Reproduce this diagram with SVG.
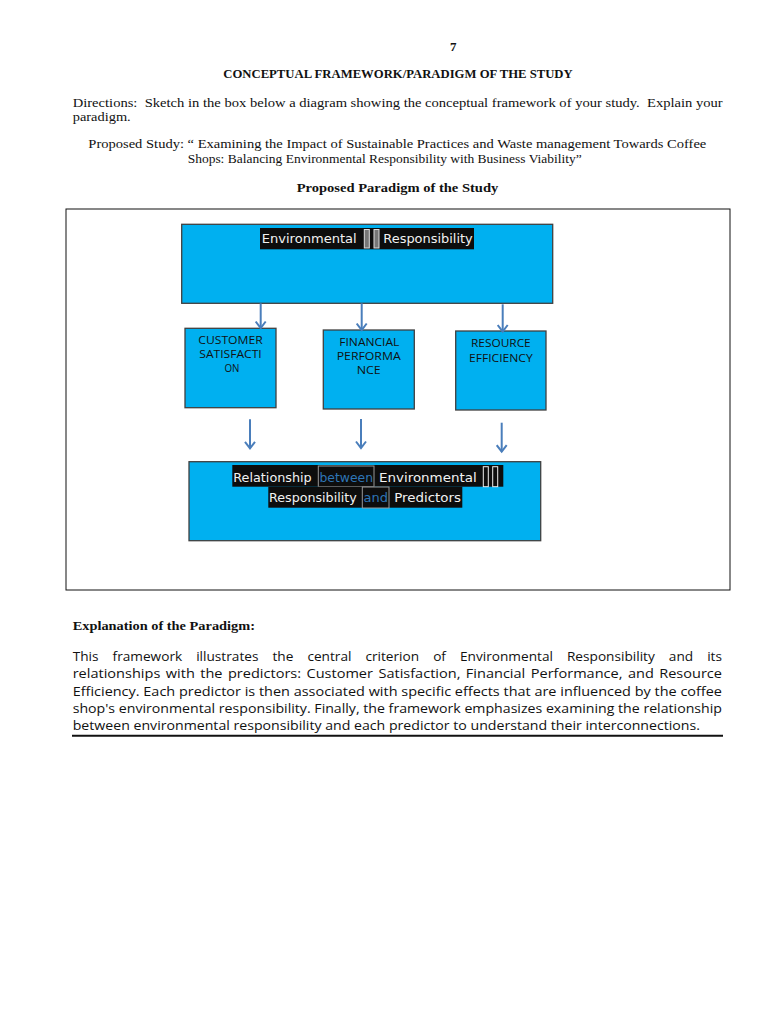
<svg xmlns="http://www.w3.org/2000/svg" width="768" height="1024" viewBox="0 0 768 1024">
<style>
.serif{font-family:"Liberation Serif","DejaVu Serif",serif;font-size:13.5px;fill:#111}
.b{font-weight:bold;font-size:13px}
.para{font-family:"Open Sans","Liberation Sans",sans-serif;font-size:13px;fill:#111}
.box{fill:#00B0F0;stroke:#404040;stroke-width:1.3}
.lbl{font-family:"Open Sans","Liberation Sans",sans-serif;font-size:11.5px;fill:#111}
.hand{font-family:"DejaVu Sans","Liberation Sans",sans-serif;font-size:12px;fill:#f2f2f2}
.blue{fill:#2E75B6}
.bg{fill:#0d0d0d}
.conn{stroke:#4A7EBB;stroke-width:2;fill:none;marker-end:url(#arr)}
</style>
<defs>
<marker id="arr" markerUnits="userSpaceOnUse" viewBox="-8 -6 10 12" refX="0" refY="0" markerWidth="10" markerHeight="12" orient="auto">
<path d="M-6.5,-5 L0,0 L-6.5,5" fill="none" stroke="#4A7EBB" stroke-width="2"/>
</marker>
</defs>
<rect width="768" height="1024" fill="#fff"/>

<g id="header">
<text class="serif b" x="450" y="51">7</text>
<text class="serif b" x="223.3" y="78.3" textLength="349.4" lengthAdjust="spacingAndGlyphs">CONCEPTUAL FRAMEWORK/PARADIGM OF THE STUDY</text>
<text class="serif" x="72.7" y="106.7" textLength="650" lengthAdjust="spacingAndGlyphs" xml:space="preserve">Directions:  Sketch in the box below a diagram showing the conceptual framework of your study.  Explain your</text>
<text class="serif" x="72.7" y="120.5" textLength="58" lengthAdjust="spacingAndGlyphs">paradigm.</text>
<text class="serif" x="88.3" y="148.3" textLength="618" lengthAdjust="spacingAndGlyphs">Proposed Study: “ Examining the Impact of Sustainable Practices and Waste management Towards Coffee</text>
<text class="serif" x="187.7" y="162.7" textLength="394" lengthAdjust="spacingAndGlyphs">Shops: Balancing Environmental Responsibility with Business Viability”</text>
<text class="serif b" x="296.7" y="191.7" textLength="201.6" lengthAdjust="spacingAndGlyphs">Proposed Paradigm of the Study</text>
</g>

<rect id="frame" x="66" y="209" width="664" height="381" fill="none" stroke="#111" stroke-width="1"/>

<g id="environmental-responsibility">
<rect class="box" x="181.7" y="224.3" width="371" height="79"/>
<rect class="bg" x="260" y="228" width="214" height="21.3"/>
<text class="hand" x="261.7" y="242.7" textLength="95" lengthAdjust="spacingAndGlyphs">Environmental</text>
<rect x="364.3" y="229.5" width="5" height="18.5" fill="#777" stroke="#ddd" stroke-width="1"/>
<rect x="374" y="229.5" width="5" height="18.5" fill="#777" stroke="#ddd" stroke-width="1"/>
<text class="hand" x="383.3" y="242.7" textLength="89.4" lengthAdjust="spacingAndGlyphs">Responsibility</text>
</g>

<g id="customer-satisfaction">
<rect class="box" x="185" y="328.3" width="91" height="79.4"/>
<text class="lbl" x="198.3" y="344.3" textLength="64.4" lengthAdjust="spacingAndGlyphs">CUSTOMER</text>
<text class="lbl" x="199.3" y="358.3" textLength="62.4" lengthAdjust="spacingAndGlyphs">SATISFACTI</text>
<text class="lbl" x="224.5" y="372.3" textLength="15" lengthAdjust="spacingAndGlyphs">ON</text>
</g>

<g id="financial-performance">
<rect class="box" x="323.3" y="330" width="91" height="79"/>
<text class="lbl" x="339.3" y="346" textLength="60" lengthAdjust="spacingAndGlyphs">FINANCIAL</text>
<text class="lbl" x="336.7" y="360" textLength="64" lengthAdjust="spacingAndGlyphs">PERFORMA</text>
<text class="lbl" x="356.7" y="374.3" textLength="24" lengthAdjust="spacingAndGlyphs">NCE</text>
</g>

<g id="resource-efficiency">
<rect class="box" x="455.7" y="331" width="90.3" height="79"/>
<text class="lbl" x="471" y="346.7" textLength="59.7" lengthAdjust="spacingAndGlyphs">RESOURCE</text>
<text class="lbl" x="469" y="361.7" textLength="63.7" lengthAdjust="spacingAndGlyphs">EFFICIENCY</text>
</g>

<g id="relationship">
<rect class="box" x="189" y="461.7" width="351.7" height="79"/>
<rect class="bg" x="232.3" y="465" width="271" height="21.7"/>
<text class="hand" x="233.3" y="481.7" textLength="78.4" lengthAdjust="spacingAndGlyphs">Relationship</text>
<rect x="318.3" y="466" width="55.7" height="20.7" fill="#0d0d0d" stroke="#999" stroke-width="1"/>
<text class="hand blue" x="319.5" y="481.7" textLength="53.5" lengthAdjust="spacingAndGlyphs">between</text>
<text class="hand" x="379" y="481.7" textLength="97.7" lengthAdjust="spacingAndGlyphs">Environmental</text>
<rect x="483.3" y="466.7" width="5" height="20" fill="#0d0d0d" stroke="#eee" stroke-width="1"/>
<rect x="492.7" y="466.7" width="5" height="20" fill="#0d0d0d" stroke="#eee" stroke-width="1"/>
<rect class="bg" x="268.3" y="486.7" width="194" height="21"/>
<text class="hand" x="269" y="501.7" textLength="87.7" lengthAdjust="spacingAndGlyphs">Responsibility</text>
<rect x="362.3" y="487" width="26.7" height="21" fill="#0d0d0d" stroke="#999" stroke-width="1"/>
<text class="hand blue" x="363.5" y="501.7" textLength="24.5" lengthAdjust="spacingAndGlyphs">and</text>
<text class="hand" x="394.3" y="501.7" textLength="66.7" lengthAdjust="spacingAndGlyphs">Predictors</text>
</g>

<g id="connectors">
<line class="conn" x1="260.7" y1="303.3" x2="260.7" y2="328"/>
<line class="conn" x1="361.7" y1="303.3" x2="361.7" y2="330"/>
<line class="conn" x1="502.7" y1="304.3" x2="502.7" y2="331.5"/>
<line class="conn" x1="250" y1="419.3" x2="250" y2="448.3"/>
<line class="conn" x1="361" y1="419" x2="361" y2="448"/>
<line class="conn" x1="501.7" y1="422.7" x2="501.7" y2="451.7"/>
</g>

<g id="explanation">
<text class="serif b" x="72.7" y="630" textLength="182.3" lengthAdjust="spacingAndGlyphs">Explanation of the Paradigm:</text>
<text class="para" x="72.7" y="661" textLength="649.3" lengthAdjust="spacingAndGlyphs" style="word-spacing:10px">This framework illustrates the central criterion of Environmental Responsibility and its</text>
<text class="para" x="72.7" y="678.3" textLength="649.3" lengthAdjust="spacingAndGlyphs" style="word-spacing:1.5px">relationships with the predictors: Customer Satisfaction, Financial Performance, and Resource</text>
<text class="para" x="72.7" y="695.7" textLength="649.3" lengthAdjust="spacingAndGlyphs">Efficiency. Each predictor is then associated with specific effects that are influenced by the coffee</text>
<text class="para" x="72.7" y="713.3" textLength="649.3" lengthAdjust="spacingAndGlyphs">shop's environmental responsibility. Finally, the framework emphasizes examining the relationship</text>
<text class="para" x="72.7" y="730" textLength="627.3" lengthAdjust="spacingAndGlyphs">between environmental responsibility and each predictor to understand their interconnections.</text>
<line x1="72" y1="735.8" x2="723" y2="735.8" stroke="#111" stroke-width="2"/>
</g>
</svg>
